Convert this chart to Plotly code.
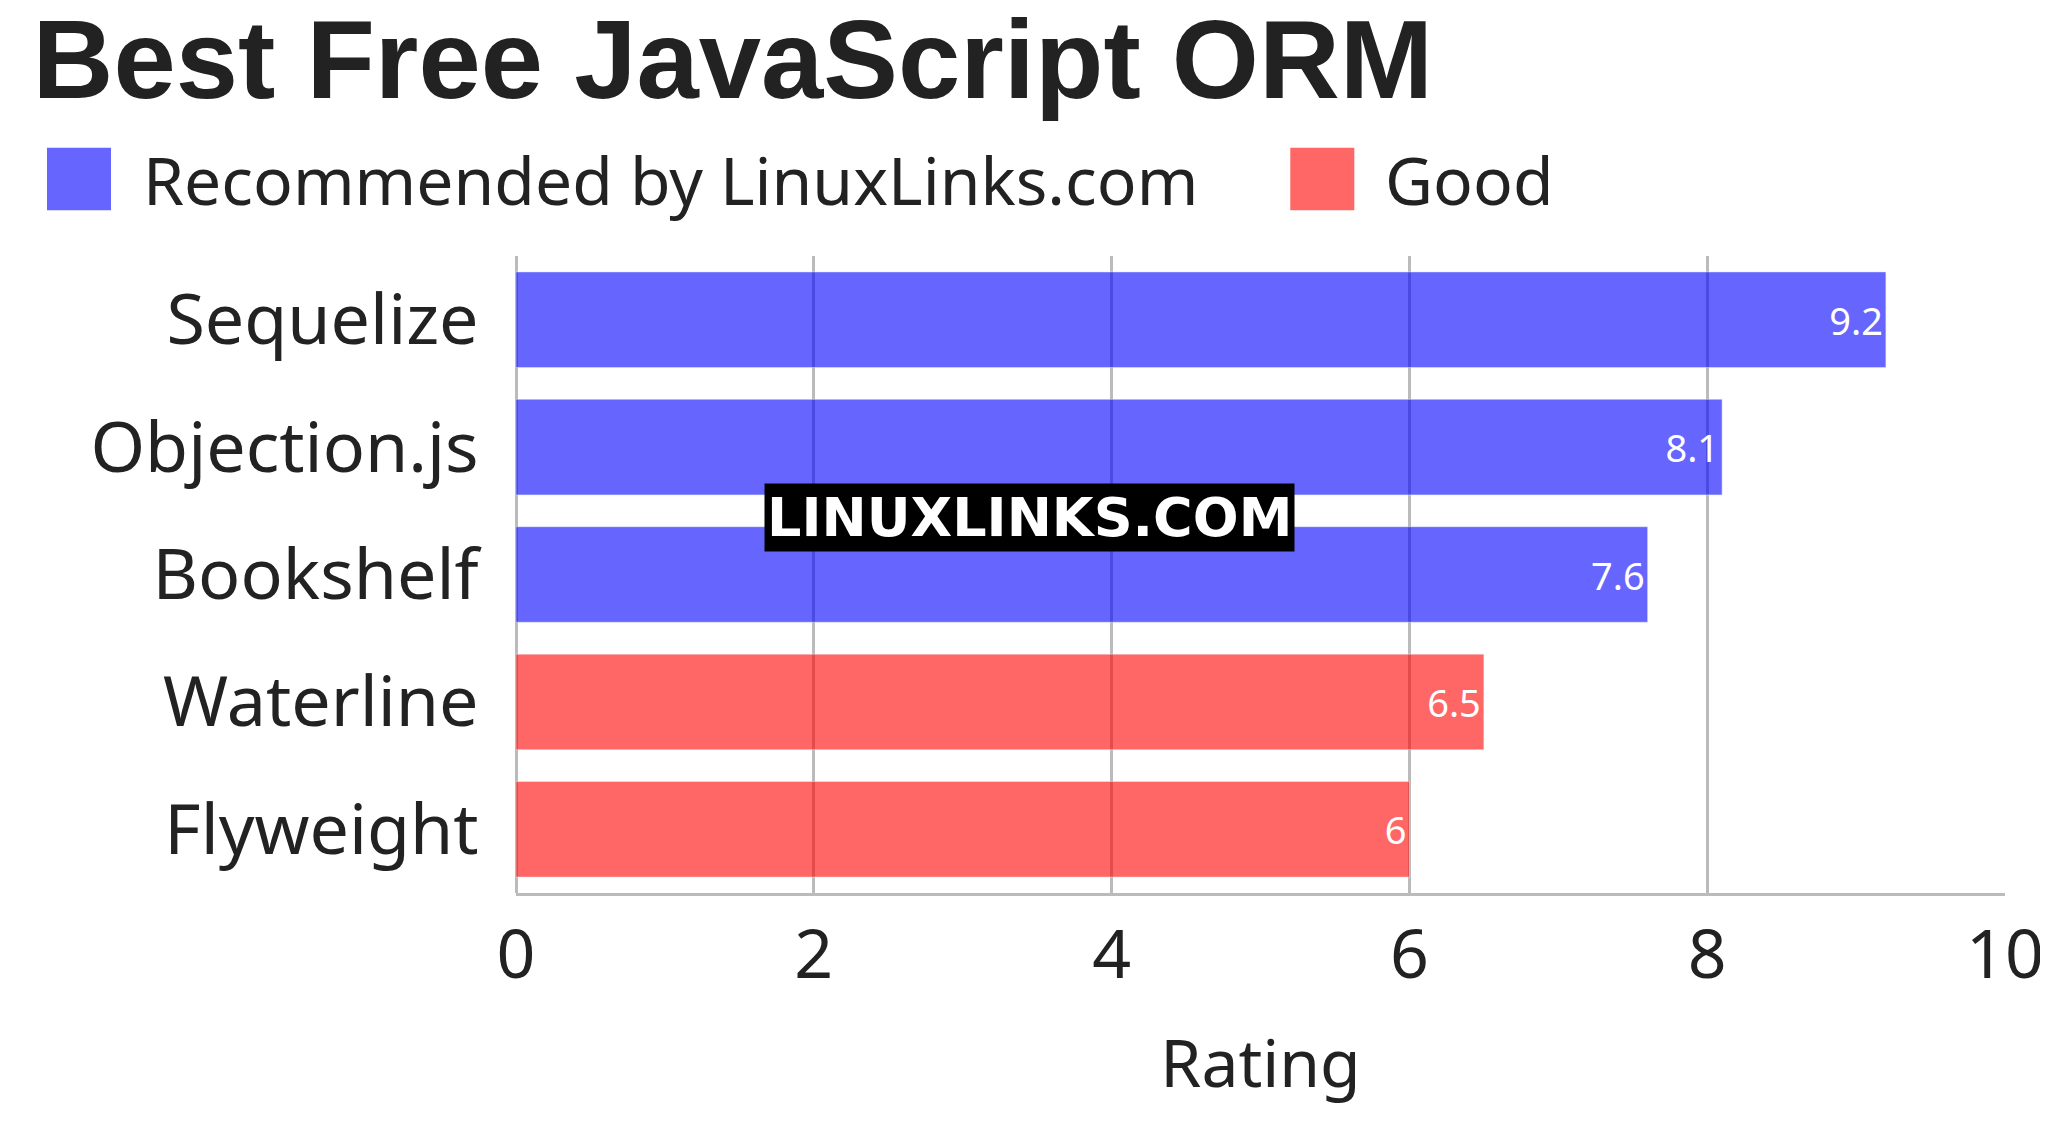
import plotly.graph_objects as go

# data
rec_names = ["Sequelize", "Objection.js", "Bookshelf"]
rec_values = [9.2, 8.1, 7.6]
good_names = ["Waterline", "Flyweight"]
good_values = [6.5, 6]
order = rec_names + good_names
legend_labels = ["Recommended by LinuxLinks.com", "Good"]
blue = "rgba(0,0,255,0.6)"
red = "rgba(255,0,0,0.6)"

fig = go.Figure()
fig.add_trace(go.Bar(y=rec_names, x=rec_values, orientation="h", marker_color=blue,
                     text=[str(v) for v in rec_values], textposition="inside",
                     insidetextanchor="end", textfont=dict(color="white", size=38)))
fig.add_trace(go.Bar(y=good_names, x=good_values, orientation="h", marker_color=red,
                     text=[str(v) for v in good_values], textposition="inside",
                     insidetextanchor="end", textfont=dict(color="white", size=38)))

fig.update_layout(
    width=2048, height=1124, showlegend=False,
    paper_bgcolor="white", plot_bgcolor="white",
    barmode="overlay", bargap=0.25,
    font=dict(family="Noto Sans", color="#222222", size=70),
    title=dict(text="<b>Best Free JavaScript ORM</b>", x=0.012, xanchor="left",
               y=0.955, yanchor="middle",
               font=dict(family="Liberation Sans", size=112, color="#222222")),
    margin=dict(l=508, r=45, t=248, b=239),
    xaxis=dict(range=[0, 10], dtick=2, showgrid=True, gridcolor="#bbbbbb", gridwidth=3,
               showline=True, linecolor="#bbbbbb", linewidth=3, zeroline=True,
               zerolinecolor="#bbbbbb", zerolinewidth=3,
               title=dict(text="Rating", font=dict(size=66), standoff=45), tickfont=dict(size=68)),
    yaxis=dict(categoryorder="array", categoryarray=order, autorange="reversed",
               tickfont=dict(size=70), ticksuffix="  "),
)

# legend drawn by hand so the swatches are large
for (x0, x1, tx), col, lab in zip([(-0.315, -0.272, -0.252), (0.520, 0.563, 0.582)],
                                  [blue, red], legend_labels):
    fig.add_shape(type="rect", xref="paper", yref="paper", x0=x0, x1=x1, y0=1.072, y1=1.170,
                  fillcolor=col, line_width=0)
    fig.add_annotation(text=lab, x=tx, y=1.121, xref="paper", yref="paper", showarrow=False,
                       xanchor="left", yanchor="middle", font=dict(size=66))

fig.add_annotation(text="<b>LINUXLINKS.COM</b>", x=0.345, y=0.59, xref="paper", yref="paper",
                   showarrow=False, font=dict(family="DejaVu Sans", size=54, color="white"),
                   bgcolor="black", borderpad=2)
fig.add_shape(type="line", xref="paper", yref="paper", x0=-0.34, x1=1.03, y0=-0.366, y1=-0.366,
              line=dict(color="black", width=3))

fig.write_html("out.html")
